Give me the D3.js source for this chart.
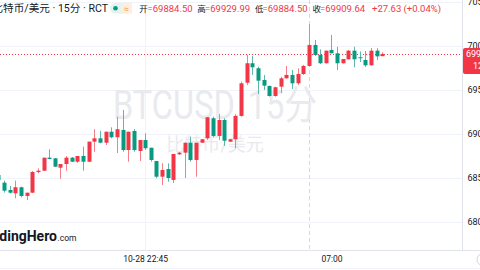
<!DOCTYPE html>
<html>
<head>
<meta charset="utf-8">
<script src="https://cdn.jsdelivr.net/npm/d3@7"></script>
<style>
  html, body { margin: 0; padding: 0; background: #ffffff; overflow: hidden; }
  svg { display: block; font-family: Roboto, "Noto Sans CJK SC", sans-serif; }
</style>
</head>
<body>
<svg id="chart" width="480" height="270"></svg>
<script>
// 15 min candles, 10-28 16:15 .. 10-29 09:15
const startTime = "2024-10-28T16:15:00";
const stepMinutes = 15;

const open = [68534, 68447, 68364, 68326, 68395, 68296, 68333, 68568, 68583, 68731,
              68724, 68617, 68659, 68731, 68685, 68750, 68685, 68913, 68951, 68901,
              69026, 68963, 69046, 68818, 69034, 68807, 68932, 68844, 68693, 68515,
              68602, 68478, 68769, 68788, 68901, 68705, 68901, 68951, 69179, 68978,
              69159, 68913, 68940, 69205, 69583, 69804, 69747, 69614, 69546, 69432,
              69538, 69633, 69671, 69576, 69682, 69773, 70012, 69898, 69804, 69955,
              69917, 69804, 69849, 69947, 69872, 69841, 69781, 69947, 69884.50];
const high = [68557, 68470, 68409, 68470, 68401, 68333, 68580, 68610, 68731, 68826,
              68727, 68659, 68750, 68739, 68750, 68856, 68913, 69054, 69038, 69026,
              69076, 69197, 69273, 69026, 69057, 68932, 69008, 68844, 68693, 68667,
              68667, 68773, 68796, 68901, 68970, 68901, 68943, 69193, 69197, 69227,
              69179, 68943, 69227, 69595, 69898, 69887, 69765, 69671, 69550, 69538,
              69651, 69773, 69727, 69747, 69784, 70250, 70068, 69963, 69947, 70125,
              69992, 69852, 69955, 69992, 69938, 69943, 69977, 69974, 69929.99];
const low = [68455, 68335, 68324, 68270, 68281, 68250, 68330, 68554, 68580, 68713,
             68625, 68492, 68583, 68682, 68671, 68583, 68682, 68799, 68894, 68875,
             68951, 68784, 68799, 68685, 68799, 68693, 68818, 68685, 68497, 68421,
             68458, 68443, 68762, 68500, 68685, 68515, 68898, 68932, 68963, 68932,
             68864, 68909, 68838, 69197, 69557, 69671, 69455, 69500, 69425, 69424,
             69466, 69630, 69512, 69557, 69671, 69765, 69887, 69796, 69801, 69917,
             69727, 69801, 69846, 69758, 69818, 69762, 69776, 69841, 69884.50];
const close = [68478, 68356, 68333, 68395, 68296, 68333, 68568, 68583, 68731, 68716,
               68629, 68659, 68731, 68685, 68750, 68685, 68913, 68951, 68901, 69026,
               68963, 69054, 68818, 69026, 68818, 68932, 68838, 68705, 68515, 68591,
               68500, 68773, 68788, 68901, 68705, 68901, 68940, 69190, 68978, 69159,
               68924, 68940, 69205, 69576, 69804, 69758, 69606, 69549, 69432, 69531,
               69633, 69671, 69576, 69682, 69773, 70012, 69898, 69804, 69947, 69917,
               69804, 69852, 69947, 69849, 69868, 69781, 69947, 69882.01, 69909.64];

const yTicks = [68000, 68500, 69000, 69500, 70000, 70500];
const xTickTimes = ["2024-10-28T22:45:00", "2024-10-29T07:00:00"];
const xTickLabels = ["10-28 22:45", "07:00"];
const sessionBreak = "2024-10-29T06:00:00";

const titleText = "比特币/美元 · 15分 · RCT";
const watermark = "BTCUSD, 15分";
const watermarkSub = "比特币/美元";
const countdown = "12:27";

const UP = "#f23645", DOWN = "#089981";
const UP_WICK = "#f47f89", DOWN_WICK = "#5fb8aa";
const TEXT = "#131722", GRID = "#f0f3fa", BORDER = "#e0e3eb";

const W = 480, H = 270;
const plotRight = 462.5, plotBottom = 250.5;

const svg = d3.select("#chart");
const parse = d3.isoParse;
const fmt = d3.format(".2f");
const t0 = parse(startTime);
const times = open.map((d, i) => d3.timeMinute.offset(t0, stepMinutes * i));

const x = d3.scaleTime()
    .domain([times[0], times[times.length - 1]])
    .range([-1.65, 382.3]);
const y = d3.scaleLinear()
    .domain([68000, 70000])
    .range([222, 46]);

// grid
let grid = svg.append("g").attr("class", "grid");
grid.selectAll("line.h")
    .data(yTicks)
    .enter().append("line")
    .attr("class", "h")
    .attr("x1", 0).attr("x2", plotRight)
    .attr("y1", d => Math.round(y(d)) + 0.5)
    .attr("y2", d => Math.round(y(d)) + 0.5)
    .attr("stroke", GRID);
grid.selectAll("line.v")
    .data([xTickTimes[0]])
    .enter().append("line")
    .attr("class", "v")
    .attr("x1", d => Math.round(x(parse(d))) + 0.5)
    .attr("x2", d => Math.round(x(parse(d))) + 0.5)
    .attr("y1", 0).attr("y2", plotBottom)
    .attr("stroke", GRID);
grid.append("line")
    .attr("x1", Math.round(x(parse(sessionBreak))) + 0.5)
    .attr("x2", Math.round(x(parse(sessionBreak))) + 0.5)
    .attr("y1", 0).attr("y2", plotBottom)
    .attr("stroke", "#d6d9e0")
    .attr("stroke-dasharray", "4,3");

// watermark
svg.append("text")
    .attr("x", 113).attr("y", 119)
    .attr("font-size", 40)
    .attr("textLength", 204)
    .attr("lengthAdjust", "spacingAndGlyphs")
    .attr("fill", "#e9eaee")
    .text(watermark);
svg.append("text")
    .attr("x", 215).attr("y", 151)
    .attr("text-anchor", "middle")
    .attr("font-size", 18)
    .attr("fill", "#e9eaee")
    .text(watermarkSub);

// current price line
const last = close.length - 1;
svg.append("line")
    .attr("x1", 0).attr("x2", plotRight)
    .attr("y1", Math.round(y(close[last])) + 0.5)
    .attr("y2", Math.round(y(close[last])) + 0.5)
    .attr("stroke", UP)
    .attr("stroke-dasharray", "1,2");

// candles
const candles = svg.append("g").attr("class", "candles")
    .selectAll("g")
    .data(times.map((t, i) => ({ t: t, o: open[i], h: high[i], l: low[i], c: close[i] })))
    .enter().append("g");

candles.append("rect")
    .attr("x", d => Math.round(x(d.t)))
    .attr("width", 1)
    .attr("y", d => y(d.h))
    .attr("height", d => Math.max(1, y(d.l) - y(d.h)))
    .attr("fill", d => d.c >= d.o ? UP_WICK : DOWN_WICK);

candles.append("rect")
    .attr("x", d => Math.round(x(d.t)) - 1.5)
    .attr("width", 4)
    .attr("y", d => y(Math.max(d.o, d.c)))
    .attr("height", d => Math.max(1, Math.abs(y(d.o) - y(d.c))))
    .attr("fill", d => d.c >= d.o ? UP : DOWN);

// borders
svg.append("line")
    .attr("x1", plotRight).attr("x2", plotRight)
    .attr("y1", 0).attr("y2", plotBottom)
    .attr("stroke", BORDER);
svg.append("line")
    .attr("x1", 0).attr("x2", W)
    .attr("y1", plotBottom).attr("y2", plotBottom)
    .attr("stroke", BORDER);
svg.append("line")
    .attr("x1", 0).attr("x2", W)
    .attr("y1", 268.5).attr("y2", 268.5)
    .attr("stroke", GRID);

// y axis
const yAxis = svg.append("g")
    .attr("transform", `translate(${plotRight},0)`)
    .call(d3.axisRight(y).tickValues(yTicks).tickSize(0).tickPadding(5).tickFormat(d3.format("d")));
yAxis.select(".domain").remove();
yAxis.selectAll("text")
    .attr("font-size", 9)
    .attr("font-family", "Roboto, sans-serif")
    .attr("fill", TEXT);

// x axis
const xAxis = svg.append("g")
    .attr("transform", `translate(0,${plotBottom})`)
    .call(d3.axisBottom(x)
        .tickValues(xTickTimes.map(parse))
        .tickSize(0)
        .tickPadding(5)
        .tickFormat((d, i) => xTickLabels[i]));
xAxis.select(".domain").remove();
xAxis.selectAll("text")
    .attr("font-size", 8.5)
    .attr("font-family", "Roboto, sans-serif")
    .attr("fill", TEXT);

// price label
const py = y(close[last]);
svg.append("rect")
    .attr("x", plotRight + 0.5).attr("y", py - 6)
    .attr("width", 30).attr("height", 26)
    .attr("rx", 2)
    .attr("fill", UP);
svg.append("text")
    .attr("x", 466).attr("y", py + 3.5)
    .attr("font-size", 9)
    .attr("fill", "#ffffff")
    .text(fmt(close[last]));
svg.append("text")
    .attr("x", 473).attr("y", py + 15.5)
    .attr("font-size", 9)
    .attr("fill", "#ffffff")
    .text(countdown);

// bottom-right button
svg.append("circle")
    .attr("cx", 483).attr("cy", 259.5).attr("r", 6)
    .attr("fill", "#ffffff").attr("stroke", "#d1d4dc");

// header
svg.append("text")
    .attr("x", 108).attr("y", 12)
    .attr("text-anchor", "end")
    .attr("font-size", 10.6)
    .attr("fill", TEXT)
    .text(titleText);

svg.append("rect")
    .attr("x", 110).attr("y", 3).attr("width", 22).attr("height", 10.5)
    .attr("rx", 5.25).attr("fill", "#e3f3ef");
svg.append("rect")
    .attr("x", 121).attr("y", 3).attr("width", 11).attr("height", 10.5)
    .attr("fill", "#fdeedd");
svg.append("circle")
    .attr("cx", 115.5).attr("cy", 8.25).attr("r", 2.3)
    .attr("fill", DOWN);
svg.append("text")
    .attr("x", 126.5).attr("y", 11.5)
    .attr("text-anchor", "middle")
    .attr("font-size", 9)
    .attr("fill", "#f7a350")
    .text("≈");

const change = close[last] - close[last - 1];
const headerItems = [
    { label: "开", lx: 139.3, vx: 147.5, value: "=" + fmt(open[last]) },
    { label: "高", lx: 197.3, vx: 205, value: "=" + fmt(high[last]) },
    { label: "低", lx: 255, vx: 262.5, value: "=" + fmt(low[last]) },
    { label: "收", lx: 312.5, vx: 320, value: "=" + fmt(close[last]) }
];
const hdr = svg.append("g");
hdr.selectAll("text.lbl")
    .data(headerItems)
    .enter().append("text")
    .attr("class", "lbl")
    .attr("x", d => d.lx).attr("y", 12)
    .attr("font-size", 8.5)
    .attr("fill", TEXT)
    .text(d => d.label);
hdr.selectAll("text.val")
    .data(headerItems)
    .enter().append("text")
    .attr("class", "val")
    .attr("x", d => d.vx).attr("y", 12)
    .attr("font-size", 9.5)
    .attr("fill", UP)
    .text(d => d.value);

svg.append("text")
    .attr("x", 372).attr("y", 12)
    .attr("font-size", 9.5)
    .attr("fill", UP)
    .text("+" + fmt(change) + " (+" + fmt(change / close[last - 1] * 100) + "%)");

// logo
svg.append("text")
    .attr("x", 57).attr("y", 241)
    .attr("text-anchor", "end")
    .attr("font-size", 14)
    .attr("font-weight", "bold")
    .attr("fill", "#131722")
    .text("TradingHero");
svg.append("text")
    .attr("x", 57.5).attr("y", 241)
    .attr("font-size", 8.5)
    .attr("fill", "#131722")
    .text(".com");
</script>
</body>
</html>
